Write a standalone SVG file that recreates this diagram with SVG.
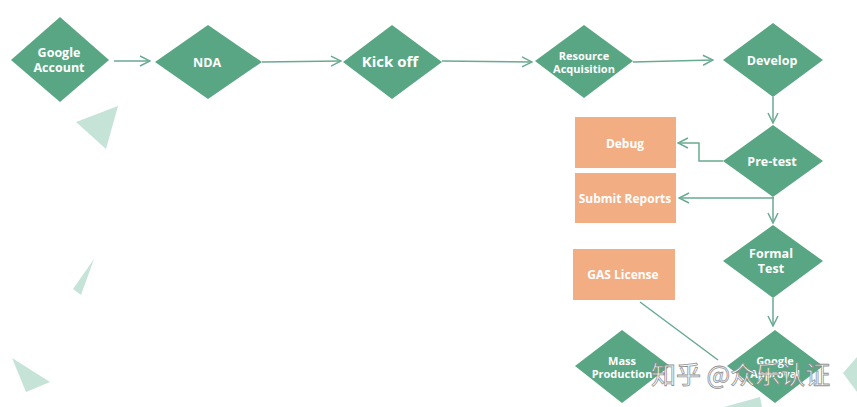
<svg xmlns="http://www.w3.org/2000/svg" width="857" height="407" viewBox="0 0 857 407">
<defs>
<style>
.d{fill:#58a683}
.r{fill:#f3ad83}
.t{fill:#ffffff;font-family:"Open Sans","Noto Sans",sans-serif;font-weight:bold;text-anchor:middle;dominant-baseline:central}
.c{fill:none;stroke:#6aaa90;stroke-width:1.5}
.bg{fill:#c6e3d8}
.wm{fill:#ffffff;stroke:#888888;stroke-width:0.8;font-family:"Noto Sans CJK SC",sans-serif;font-size:25px;dominant-baseline:central;opacity:0.9}
</style>
<marker id="a" viewBox="0 0 12 12" refX="11" refY="6" markerWidth="12" markerHeight="12" markerUnits="userSpaceOnUse" orient="auto">
<path d="M1,1 L11,6 L1,11" fill="none" stroke="#6aaa90" stroke-width="1.5"/>
</marker>
</defs>
<rect width="857" height="407" fill="#ffffff"/>
<g id="decor">
<polygon class="bg" points="76,122 118,106 106,149"/>
<polygon class="bg" points="94,259 73,289 81,295"/>
<polygon class="bg" points="12,358 50,382 26,392"/>
<polygon class="bg" points="843,373 857,357 857,392"/>
<polygon class="bg" points="724,407 760,397 762,407"/>
</g>
<g id="connectors">
<path class="c" d="M114,61 L150,61" marker-end="url(#a)"/>
<path class="c" d="M262,62 L341,61" marker-end="url(#a)"/>
<path class="c" d="M442,61 L532,62" marker-end="url(#a)"/>
<path class="c" d="M633,62 L713,60" marker-end="url(#a)"/>
<path class="c" d="M773,97 L773,123" marker-end="url(#a)"/>
<path class="c" d="M723,161 L699,161 L699,143 L678,143" marker-end="url(#a)"/>
<path class="c" d="M773,197 L773,198 L679,198" marker-end="url(#a)"/>
<path class="c" d="M773,197 L773,223" marker-end="url(#a)"/>
<path class="c" d="M773,298 L773,326" marker-end="url(#a)"/>
<path class="c" d="M640,302 L718,360" stroke-width="1.2"/>
</g>
<g id="google-account">
<polygon class="d" points="60,17 109,60 60,102 11,60"/>
<text class="t" x="59" y="52" font-size="12.5">Google</text>
<text class="t" x="59" y="67" font-size="12.5">Account</text>
</g>
<g id="nda">
<polygon class="d" points="208,25 262,62 208,99 155,62"/>
<text class="t" x="207" y="62" font-size="12.5">NDA</text>
</g>
<g id="kick-off">
<polygon class="d" points="392,25 442,62 392,99 343,62"/>
<text class="t" x="390" y="61" font-size="15">Kick off</text>
</g>
<g id="resource-acquisition">
<polygon class="d" points="584,25 633,61 584,98 535,61"/>
<text class="t" x="584" y="55" font-size="11">Resource</text>
<text class="t" x="584" y="68" font-size="11">Acquisition</text>
</g>
<g id="develop">
<polygon class="d" points="773,23 823,60 773,97 723,60"/>
<text class="t" x="772" y="60" font-size="12.5">Develop</text>
</g>
<g id="pre-test">
<polygon class="d" points="773,125 823,161 773,197 723,161"/>
<text class="t" x="772" y="161" font-size="12.5">Pre-test</text>
</g>
<g id="debug">
<rect class="r" x="575" y="117" width="101" height="51"/>
<text class="t" x="625" y="143" font-size="12">Debug</text>
</g>
<g id="submit-reports">
<rect class="r" x="575" y="173" width="101" height="50"/>
<text class="t" x="625" y="198" font-size="12">Submit Reports</text>
</g>
<g id="formal-test">
<polygon class="d" points="773,225 823,261 773,298 723,261"/>
<text class="t" x="771" y="253" font-size="12.5">Formal</text>
<text class="t" x="771" y="268" font-size="12.5">Test</text>
</g>
<g id="gas-license">
<rect class="r" x="573" y="249" width="102" height="51"/>
<text class="t" x="623" y="274" font-size="12">GAS License</text>
</g>
<g id="mass-production">
<polygon class="d" points="622,330 670,366 622,403 575,366"/>
<text class="t" x="622" y="360" font-size="11">Mass</text>
<text class="t" x="622" y="373" font-size="11">Production</text>
</g>
<g id="google-approval">
<polygon class="d" points="775,330 823,366 775,403 727,366"/>
<text class="t" x="775" y="360" font-size="11">Google</text>
<text class="t" x="775" y="373" font-size="11">Approval</text>
</g>
<text class="wm" x="651" y="373">知乎 @众乐认证</text>
</svg>
